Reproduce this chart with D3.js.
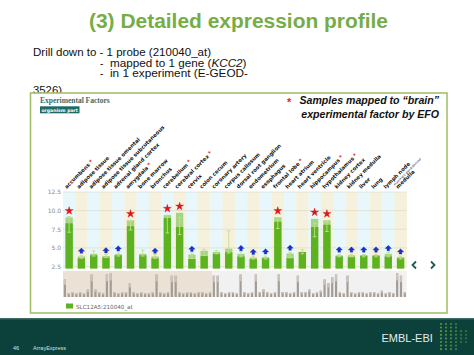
<!DOCTYPE html>
<html><head><meta charset="utf-8">
<script src="https://cdn.jsdelivr.net/npm/d3@7"></script>
<style>body{margin:0;background:#fff}svg{display:block}</style>
</head><body>
<svg id="c" width="474" height="355"></svg>
<script>
// ---------- data ----------
const categories = ["accumbens","adipose tissue","adipose tissue omental","adipose tissue subcutaneous","adrenal gland cortex","amygdala","bone marrow","bronchus","cerebellum","cerebral cortex","cervix","colon cecum","coronary artery","corpus callosum","dorsal root ganglion","endometrium","esophagus","frontal lobe","heart atrium","heart ventricle","hippocampus","hypothalamus","kidney cortex","kidney medulla","liver","lung","lymph node","medulla"];
const meanValues = [9.1,3.85,4.2,3.9,4.15,8.7,4.2,3.85,9.4,9.7,4.1,4.6,4.45,4.9,4.2,3.7,3.75,9.1,4.25,4.45,8.9,8.7,4.0,4.0,4.0,4.0,4.2,3.75];
const darkValues = [8.3,3.6,4.0,3.7,4.0,7.9,4.0,3.6,9.0,7.8,3.5,3.9,4.2,4.4,3.85,3.5,3.6,8.5,3.6,4.45,7.8,8.1,3.85,3.75,3.95,3.95,3.85,3.6];
const errLow  = [7.1,3.6,3.9,3.7,3.9,7.4,3.9,3.6,7.0,6.8,3.6,4.0,4.2,4.3,3.8,3.5,3.5,7.6,3.7,4.2,6.5,7.2,3.8,3.8,3.8,3.8,3.8,3.5];
const errHigh = [9.2,4.0,4.6,4.1,4.3,8.5,4.7,4.1,9.4,9.1,4.3,4.8,4.6,7.3,4.6,3.9,3.9,8.8,4.4,4.75,8.3,8.5,4.1,4.1,4.1,4.1,4.4,3.9];
const markers = ["star","arrow","none","arrow","arrow","star","none","arrow","star","star","arrow","none","none","none","arrow","arrow","arrow","star","arrow","none","star","star","arrow","arrow","arrow","arrow","arrow","arrow"];
const brainMapped = ["accumbens","amygdala","cerebellum","cerebral cortex","frontal lobe","hippocampus","hypothalamus"];
const yTicks = [12.5,10.0,7.5,5.0,2.5];
const sampleValues = [0.7,0.15,0.2,0.15,0.2,0.15,0.3,0.9,0.3,0.2,0.15,0.9,0.95,0.2,0.15,0.2,0.2,0.55,0.2,0.15,0.2,0.15,0.15,0.2,0.9,0.2,0.15,0.2,0.85,0.85,0.2,0.15,0.2,0.2,0.15,0.2,0.2,0.15,0.2,0.85,0.85,0.2,0.15,0.2,0.2,0.15,0.9,0.2,0.15,0.2,0.9,0.2,0.3,0.2,0.15,0.2,0.9,0.2,0.2,0.15,0.2,0.85,0.2,0.2,0.3,0.15,0.2,0.25,0.7,0.55,0.8,0.9,0.2,0.15,0.85,0.2,0.15,0.2,0.2,0.15,0.2,0.2,0.15,0.25,0.15,0.2,0.15,0.95,0.85,0.2];
const brushedSamples = 39;
const seriesName = "SLC12A5:210040_at";
const lastLabelNote = "mammary gland-derived";

// ---------- slide ----------
const svg = d3.select("#c");
svg.append("rect").attr("width",474).attr("height",355).attr("fill","#fff");

svg.append("text").attr("x",89).attr("y",28)
  .attr("textLength",299).attr("lengthAdjust","spacingAndGlyphs")
  .attr("font-family","Liberation Sans, Arial, sans-serif").attr("font-weight","bold")
  .attr("font-size",20).attr("fill","#76ad46").text("(3) Detailed expression profile");

const body = svg.append("g").attr("font-family","Liberation Sans, Arial, sans-serif").attr("font-size",10.2).attr("fill","#111");
body.append("text").attr("x",33).attr("y",56).attr("textLength",178).attr("lengthAdjust","spacingAndGlyphs").text("Drill down to - 1 probe (210040_at)");
body.append("text").attr("x",100).attr("y",66.5).text("-");
const l2 = body.append("text").attr("x",110).attr("y",66.5).attr("textLength",136.5).attr("lengthAdjust","spacingAndGlyphs");
l2.append("tspan").text("mapped to 1 gene (");
l2.append("tspan").attr("font-style","italic").text("KCC2");
l2.append("tspan").text(")");
body.append("text").attr("x",100).attr("y",77).text("-");
body.append("text").attr("x",110).attr("y",77).attr("textLength",138).attr("lengthAdjust","spacingAndGlyphs").text("in 1 experiment (E-GEOD-");

// chart frame
svg.append("rect").attr("x",30.5).attr("y",93).attr("width",416.5).attr("height",220)
  .attr("fill","#fff").attr("stroke","#9dbd62").attr("stroke-width",1.5);

body.append("text").attr("x",33).attr("y",93.5).attr("textLength",29).attr("lengthAdjust","spacingAndGlyphs").text("3526)");

svg.append("text").attr("x",40).attr("y",102.5).attr("font-family","Liberation Serif, serif")
  .attr("font-weight","bold").attr("font-size",7.5).attr("fill","#356d6b").text("Experimental Factors");
svg.append("rect").attr("x",40).attr("y",106.3).attr("width",39.5).attr("height",7).attr("fill","#1d6b68");
svg.append("text").attr("x",59.7).attr("y",111.9).attr("text-anchor","middle").attr("font-family","DejaVu Sans, sans-serif")
  .attr("font-weight","bold").attr("font-size",4.6).attr("fill","#fff").text("organism part");

const ann = svg.append("g").attr("font-family","Liberation Sans, Arial, sans-serif").attr("font-weight","bold").attr("font-style","italic").attr("font-size",10.6).attr("fill","#111");
ann.append("text").attr("x",439).attr("y",104).attr("text-anchor","end").text("Samples mapped to “brain”");
ann.append("text").attr("x",439).attr("y",117.5).attr("text-anchor","end").text("experimental factor by EFO");
svg.append("text").attr("x",287).attr("y",106).attr("font-family","Liberation Sans, Arial, sans-serif").attr("font-weight","bold").attr("font-size",11).attr("fill","#e0282a").text("*");

// ---------- main chart ----------
const x = d3.scaleBand().domain(categories).range([63,406.7]);
const y = d3.scaleLinear().domain([2.5,12.5]).range([266.5,192]);
const bw = 7.3;
const cx = d => x(d) + x.bandwidth()/2;
const base = y(2.5) + 2;

svg.append("g").selectAll("rect").data(categories).join("rect")
  .attr("x", d=>x(d)).attr("width", x.bandwidth()+0.2)
  .attr("y", y(12.5)).attr("height", base - y(12.5))
  .attr("fill", (d,i)=> i%2 ? "#f5f1dc" : "#e7f7fb");

svg.append("g").selectAll("line").data(yTicks).join("line")
  .attr("x1",63).attr("x2",406.7).attr("y1",d=>y(d)).attr("y2",d=>y(d))
  .attr("stroke","#dcd9c6").attr("stroke-width",0.6);

const ax = svg.append("g").attr("transform","translate(61,0)")
  .call(d3.axisLeft(y).tickValues(yTicks).tickFormat(d3.format(".1f")).tickSize(0).tickPadding(0));
ax.select(".domain").remove();
ax.selectAll("text").attr("font-size",6).attr("fill","#8a8a8a").attr("font-family","DejaVu Sans, sans-serif");

const rows = categories.map((c,i)=>({c, m:meanValues[i], d:darkValues[i], lo:errLow[i], hi:errHigh[i], mk:markers[i]}));

const bars = svg.append("g");
bars.selectAll("rect.light").data(rows).join("rect").attr("class","light")
  .attr("x", r=>cx(r.c)-bw/2).attr("width", bw)
  .attr("y", r=>y(r.m)).attr("height", r=>base - y(r.m)).attr("fill","#a6d581");
bars.selectAll("rect.dark").data(rows).join("rect").attr("class","dark")
  .attr("x", r=>cx(r.c)-bw/2).attr("width", bw)
  .attr("y", r=>y(r.d)).attr("height", r=>base - y(r.d)).attr("fill","#5db31f");

const err = svg.append("g").attr("stroke","#c6dc8e").attr("stroke-width",0.9);
err.selectAll("line.v").data(rows).join("line").attr("class","v")
  .attr("x1",r=>cx(r.c)).attr("x2",r=>cx(r.c)).attr("y1",r=>y(r.hi)).attr("y2",r=>y(r.lo));
err.selectAll("line.t").data(rows).join("line").attr("class","t")
  .attr("x1",r=>cx(r.c)-1.8).attr("x2",r=>cx(r.c)+1.8).attr("y1",r=>y(r.hi)).attr("y2",r=>y(r.hi));
err.selectAll("line.b").data(rows).join("line").attr("class","b")
  .attr("x1",r=>cx(r.c)-1.8).attr("x2",r=>cx(r.c)+1.8).attr("y1",r=>y(r.lo)).attr("y2",r=>y(r.lo));

const star = d3.symbol(d3.symbolStar, 20)();
const arrow = "M0,-3L3.2,0.2L1.3,0.2L1.3,2.4L-1.3,2.4L-1.3,0.2L-3.2,0.2Z";
svg.append("g").selectAll("path").data(rows.filter(r=>r.mk!=="none")).join("path")
  .attr("transform", r=>`translate(${cx(r.c)},${y(r.m) - (r.mk==="star"?6.5:5.5)})`)
  .attr("d", r=> r.mk==="star" ? star : arrow)
  .attr("fill", r=> r.mk==="star" ? "#e8141c" : "#1632d6")
  .attr("stroke", r=> r.mk==="star" ? "#b00" : "#0a1f9a").attr("stroke-width",0.3);

// category labels
const lab = svg.append("g").attr("font-family","DejaVu Sans, Verdana, sans-serif").attr("font-weight","bold").attr("font-size",5.3).attr("fill","#111");
const lt = lab.selectAll("text").data(categories).join("text")
  .attr("transform", d=>`translate(${cx(d)-2.5},189) rotate(-45)`);
lt.append("tspan").text(d=>d);
lt.filter(d=>brainMapped.includes(d)).append("tspan").attr("fill","#e0282a").attr("dy",-0.5).text(" *");
lab.append("text").attr("transform", `translate(${cx(categories[categories.length-1])-2.5},189) rotate(-45)`)
  .attr("dy",-4.6).attr("font-size",3).attr("font-weight","normal").text(lastLabelNote);

// chevrons
const chev = svg.append("g").attr("fill","none").attr("stroke","#1d5a58").attr("stroke-width",1.8);
chev.append("polyline").attr("points","416,261.5 412.5,265 416,268.5");
chev.append("polyline").attr("points","431,261.5 434.5,265 431,268.5");

// ---------- overview strip ----------
const sx = d3.scaleBand().domain(d3.range(sampleValues.length)).range([63,406.7]);
const sy = d3.scaleLinear().domain([0,1]).range([297,272]);
svg.append("rect").attr("x",63).attr("y",sy(1)-1).attr("width",406.7-63).attr("height",sy(0)-sy(1)+1).attr("fill","#f1f1f1");
svg.append("rect").attr("x",63).attr("y",sy(1)-1).attr("width",sx(brushedSamples)-63).attr("height",sy(0)-sy(1)+1).attr("fill","#ebe1d4");
const sb = svg.append("g");
sb.selectAll("rect.s").data(sampleValues).join("rect").attr("class","s")
  .attr("x",(v,i)=>sx(i)+sx.bandwidth()/2-1.1).attr("width",2.2)
  .attr("y",v=>sy(v)).attr("height",v=>sy(0)-sy(v)).attr("fill","#a49c94");
sb.selectAll("rect.t").data(sampleValues).join("rect").attr("class","t")
  .attr("x",(v,i)=>sx(i)+sx.bandwidth()/2-1.1).attr("width",2.2)
  .attr("y",v=>sy(v)).attr("height",v=>(sy(0)-sy(v))*0.3).attr("fill","#cbc4bc");

svg.append("rect").attr("x",66).attr("y",303.5).attr("width",7).attr("height",5).attr("fill","#5db31f");
svg.append("text").attr("x",76).attr("y",308.5).attr("font-family","DejaVu Sans, sans-serif").attr("font-size",5.6).attr("fill","#666").text(seriesName);

// ---------- footer ----------
svg.append("rect").attr("x",0).attr("y",319).attr("width",474).attr("height",36).attr("fill","#0c403b");
svg.append("rect").attr("x",0).attr("y",318).attr("width",474).attr("height",1.5).attr("fill","#3f6b66");
const ft = svg.append("g").attr("font-family","Liberation Sans, Arial, sans-serif").attr("fill","#d7e2df");
ft.append("text").attr("x",13).attr("y",350).attr("font-size",5.5).text("46");
ft.append("text").attr("x",33).attr("y",350).attr("font-size",5.5).text("ArrayExpress");
ft.append("text").attr("x",381.5).attr("y",342).attr("font-size",11).attr("fill","#e4ebe9").text("EMBL-EBI");
const dots = [];
d3.range(6).forEach(c=>d3.range(8).forEach(r=>{ if (!(c>3 && (r<2||r>5))) dots.push([c,r]); }));
svg.append("g").selectAll("circle").data(dots).join("circle")
  .attr("cx",d=>441+d[0]*5).attr("cy",d=>324+d[1]*3.6).attr("r",1.1)
  .attr("fill","#5f9f44").attr("opacity",d=>0.9-d[0]*0.08);
</script>
</body></html>
